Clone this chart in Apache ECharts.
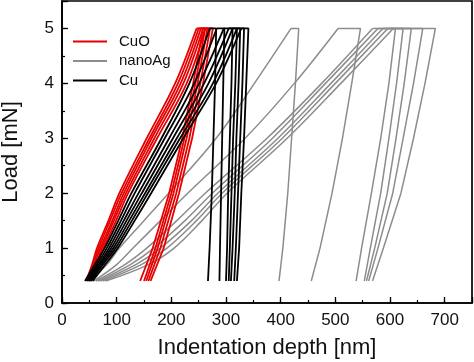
<!DOCTYPE html>
<html><head><meta charset="utf-8">
<script src="https://cdn.jsdelivr.net/npm/echarts@6/dist/echarts.min.js"></script>
<style>html,body{margin:0;padding:0;background:#fff}#c{width:474px;height:362px}</style>
</head><body><div id="c"></div>
<script>
// Load levels [mN] along each indentation path: loading (8 pts), then hold at 5 mN and unloading (6 pts)
const loadLevels = [0.4, 0.7, 1, 1.5, 2, 3, 4, 5];
const unloadLevels = [5, 4, 3, 2, 1, 0.4];

// Depth [nm] at each level: first 8 = loading, last 6 = unloading (starting at end of hold)
const cuo1 = [44, 55, 64, 85, 105, 155, 207, 246, 258, 240, 220, 196, 166, 143];
const cuo2 = [46, 57, 67, 88, 109, 160, 212, 250, 262, 244, 224, 200, 171, 150];
const cuo3 = [48, 59, 70, 92, 113, 164, 217, 254, 266, 248, 228, 204, 175, 154];
const cuo4 = [50, 62, 73, 95, 117, 169, 222, 258, 271, 253, 233, 209, 180, 158];
const cuo5 = [52, 64, 76, 99, 121, 174, 228, 262, 276, 258, 238, 214, 186, 162];

const cu1 = [42, 60, 78, 103, 127, 182, 233, 270, 282, 280, 277, 274, 270, 267];
const cu2 = [45, 64, 82, 108, 133, 188, 242, 283, 297, 295, 293, 291, 289, 288];
const cu3 = [47, 67, 86, 113, 140, 196, 251, 296, 312, 310, 307, 304, 302, 300];
const cu4 = [49, 69, 90, 118, 146, 203, 260, 305, 320, 317, 313, 310, 307, 305];
const cu5 = [51, 72, 94, 123, 152, 210, 268, 312, 326, 323, 319, 316, 312, 309];
const cu6 = [53, 75, 98, 128, 157, 216, 276, 320, 333, 330, 326, 322, 318, 315];
const cu7 = [56, 79, 102, 133, 163, 222, 282, 328, 341, 337, 333, 328, 324, 320];

const ag1 = [52, 82, 105, 150, 195, 282, 352, 419, 433, 427, 420, 413, 404, 397];
const ag2 = [58, 100, 130, 180, 230, 335, 425, 505, 546, 530, 513, 494, 472, 456];
const ag3 = [62, 115, 155, 210, 262, 375, 475, 568, 610, 598, 583, 566, 548, 538];
const ag4 = [66, 125, 168, 225, 275, 385, 482, 578, 624, 612, 598, 583, 564, 553];
const ag5 = [70, 135, 180, 237, 285, 395, 492, 587, 639, 626, 611, 595, 572, 557];
const ag6 = [75, 145, 192, 246, 293, 403, 500, 596, 660, 643, 624, 605, 578, 561];
const ag7 = [80, 158, 205, 256, 302, 412, 510, 606, 683, 664, 643, 620, 588, 568];

const groups = [
  {name: 'nanoAg', color: '#8c8c8c', width: 1.5, curves: [ag1, ag2, ag3, ag4, ag5, ag6, ag7]},
  {name: 'CuO', color: '#e60000', width: 1.8, curves: [cuo1, cuo2, cuo3, cuo4, cuo5]},
  {name: 'Cu', color: '#000000', width: 1.8, curves: [cu1, cu2, cu3, cu4, cu5, cu6, cu7]}
];
const legendNames = ['CuO', 'nanoAg', 'Cu'];
const xTicks = [0, 100, 200, 300, 400, 500, 600, 700];
const yTicks = [0, 1, 2, 3, 4, 5];

const series = [];
const nL = loadLevels.length;
groups.forEach(g => {
  g.curves.forEach(c => {
    const base = {name: g.name, type: 'line', symbol: 'none', showSymbol: false,
      lineStyle: {color: g.color, width: g.width}, itemStyle: {color: g.color}, animation: false};
    // loading branch
    series.push(Object.assign({}, base, {smooth: 0.35,
      data: loadLevels.map((p, i) => [c[i], p])}));
    // hold + unloading branch
    const path = [[c[nL - 1], 5]].concat(unloadLevels.map((p, i) => [c[nL + i], p]));
    series.push(Object.assign({}, base, {data: path}));
  });
});

const font = 'Arial, "Liberation Sans", sans-serif';
const legendLine = 'path://M0,0 L34,0 L34,2 L0,2 Z';
const chart = echarts.init(document.getElementById('c'), null, {renderer: 'canvas'});
chart.setOption({
  animation: false,
  grid: {left: 62, right: 2, top: 1, bottom: 59, containLabel: false, outerBoundsMode: 'none',
         show: true, borderColor: '#000', borderWidth: 1.7, backgroundColor: 'transparent'},
  legend: {
    data: legendNames.map(n => ({name: n, icon: legendLine})),
    orient: 'vertical', left: 68, top: 29, itemWidth: 34, itemHeight: 14, itemGap: 4.5,
    textStyle: {fontFamily: font, fontSize: 15, color: '#111', padding: [0, 0, 0, 7]}
  },
  xAxis: [
    {type: 'value', min: 0, max: 750, interval: 100, position: 'bottom',
     name: 'Indentation depth [nm]', nameLocation: 'middle', nameGap: 34,
     nameTextStyle: {fontFamily: font, fontSize: 22, color: '#111'},
     axisLine: {show: true, lineStyle: {color: '#000', width: 1.7}},
     axisTick: {show: true, inside: true, length: 6, lineStyle: {color: '#000', width: 1.3}},
     axisLabel: {fontFamily: font, fontSize: 17, color: '#111', margin: 9,
       formatter: v => xTicks.indexOf(v) >= 0 ? String(v) : ''},
     splitLine: {show: false}},
    {type: 'value', min: 0, max: 750, interval: 50, position: 'bottom',
     axisLine: {show: false}, axisTick: {show: true, inside: true, length: 3, lineStyle: {color: '#000', width: 1.2}},
     axisLabel: {show: false}, splitLine: {show: false}}
  ],
  yAxis: [
    {type: 'value', min: 0, max: 5.5, interval: 1, position: 'left',
     name: 'Load [mN]', nameLocation: 'middle', nameGap: 40,
     nameTextStyle: {fontFamily: font, fontSize: 22, color: '#111'},
     axisLine: {show: true, lineStyle: {color: '#000', width: 1.7}},
     axisTick: {show: true, inside: true, length: 6, lineStyle: {color: '#000', width: 1.3}},
     axisLabel: {fontFamily: font, fontSize: 17, color: '#111', margin: 8,
       formatter: v => yTicks.indexOf(v) >= 0 ? String(v) : ''},
     splitLine: {show: false}},
    {type: 'value', min: 0, max: 5.5, interval: 0.5, position: 'left',
     axisLine: {show: false}, axisTick: {show: true, inside: true, length: 3, lineStyle: {color: '#000', width: 1.2}},
     axisLabel: {show: false}, splitLine: {show: false}}
  ],
  series: series
});
</script></body></html>
